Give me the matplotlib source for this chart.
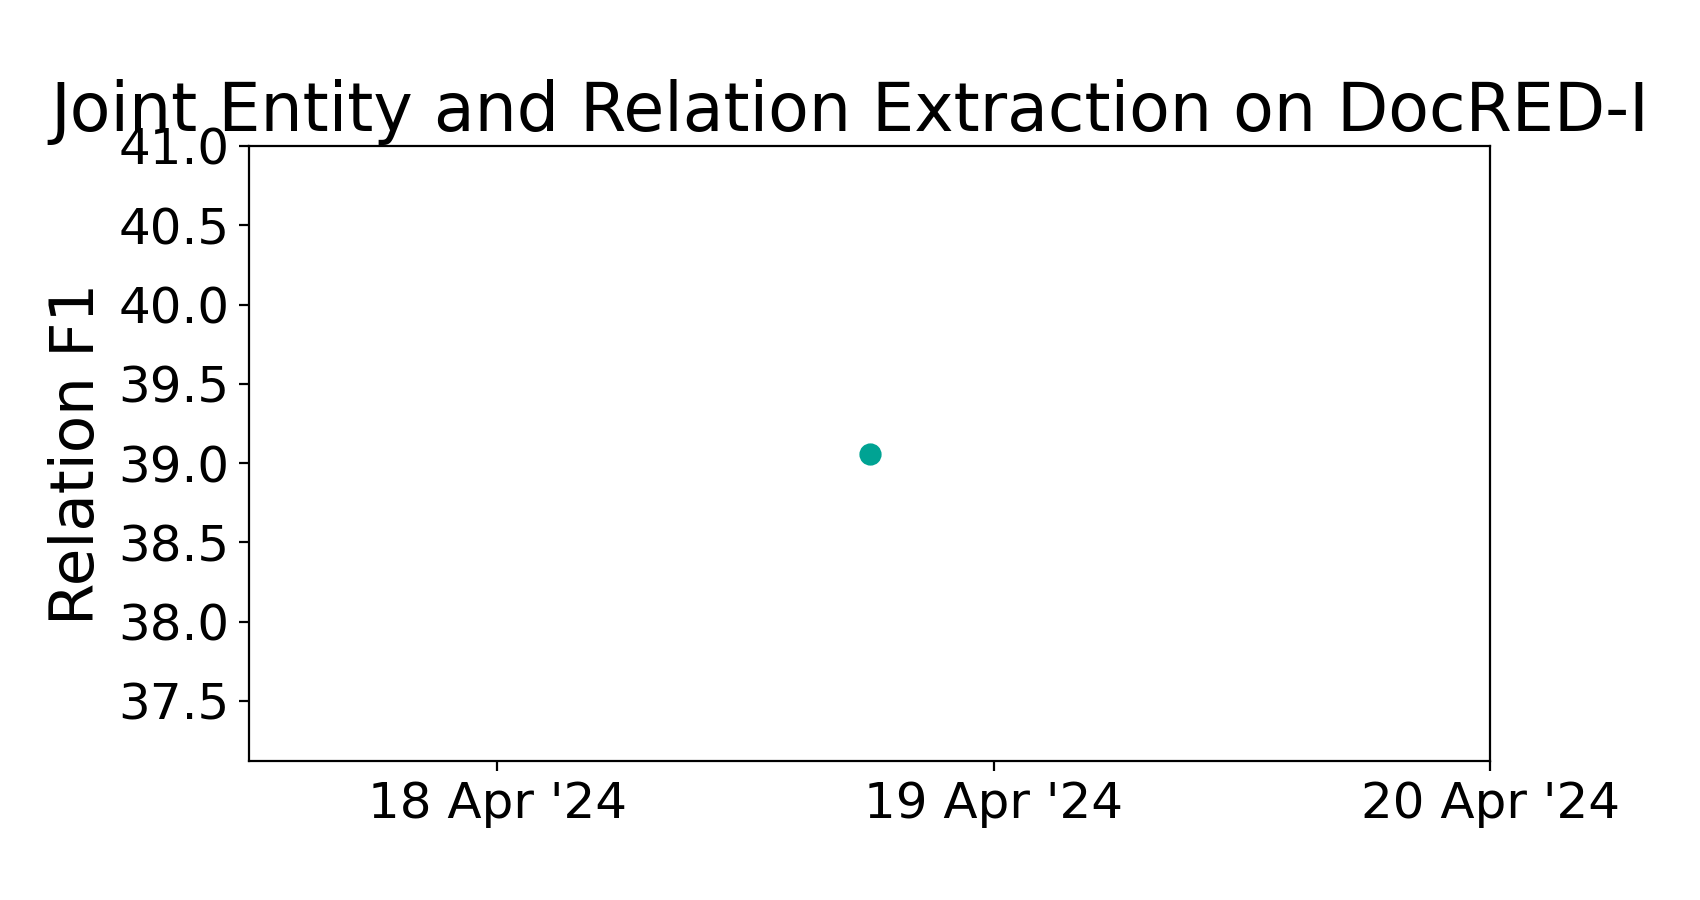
import datetime as dt
import matplotlib
matplotlib.use("Agg")
import matplotlib.pyplot as plt
import matplotlib.dates as mdates
from matplotlib.ticker import MultipleLocator, FormatStrFormatter

# single result on the leaderboard
dates = [dt.datetime(2024, 4, 18, 18, 0)]
relation_f1 = [39.06]
x_range = (dt.datetime(2024, 4, 17, 12, 0), dt.datetime(2024, 4, 20, 0, 0))
y_range = (37.12, 41.0)

fig = plt.figure(figsize=(8.5, 4.5), dpi=200)
ax = fig.add_axes([0.1465, 0.1544, 0.73, 0.6834])

ax.plot(dates, relation_f1, 'o', color='#00a393', markersize=7, linestyle='none')

ax.set_xlim(*x_range)
ax.set_ylim(*y_range)
ax.xaxis.set_major_locator(mdates.DayLocator())
ax.xaxis.set_major_formatter(mdates.DateFormatter("%d %b '%y"))
ax.yaxis.set_major_locator(MultipleLocator(0.5))
ax.yaxis.set_major_formatter(FormatStrFormatter('%.1f'))
ax.tick_params(axis='both', labelsize=18)
ax.set_ylabel("Relation F1", fontsize=22)

fig.text(0.5, 0.854, "Joint Entity and Relation Extraction on DocRED-I",
         ha='center', va='baseline', fontsize=24)

fig.savefig("out.png", dpi=200)
